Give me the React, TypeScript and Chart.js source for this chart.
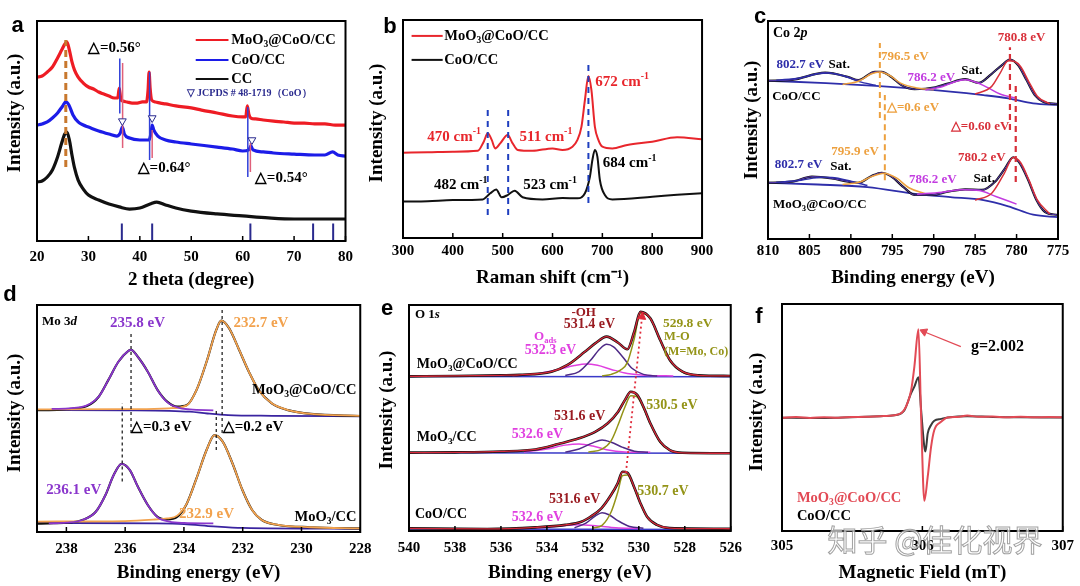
import { useEffect, useRef } from 'react';
import { Chart, registerables } from 'chart.js';

Chart.register(...registerables);

type Pt = [number, number];
type Align = 'left' | 'center' | 'right';

const SERIF = '"Liberation Serif", "Times New Roman", serif';
const SANS = '"Liberation Sans", Arial, sans-serif';
const CJK = '"Noto Sans CJK SC", sans-serif';

const zip = (xs: number[], ys: number[]): Pt[] => xs.map((x, i) => [x, ys[i]]);

// ---------------- (a) XRD patterns, 2θ (degree) ----------------
const xrdThetaMoCo = [20, 21, 22, 23, 24, 24.8, 25.4, 25.8, 26.3, 26.8, 27.3, 28, 29, 30, 31, 32, 33, 34, 35, 35.7, 36.0, 36.3, 36.7, 37.5, 38.5, 39.5, 40.5, 41.3, 41.6, 41.8, 42.0, 42.3, 43, 44, 45, 47, 50, 52, 55, 58, 60, 60.6, 60.9, 61.2, 61.6, 62.5, 64, 66, 68, 70, 72, 74, 76, 78, 80];
const xrdMoCo = [74.5, 75, 76.8, 79.1, 83.2, 86.8, 89.5, 90.5, 86.8, 81.4, 77.7, 74.5, 71.8, 70, 69.1, 67.7, 66.8, 65.9, 65, 65, 69.5, 64.5, 63.6, 63.2, 62.7, 62.7, 63.2, 63.2, 68.6, 76.8, 69.5, 64.1, 63.2, 62.7, 62.3, 61.4, 60.5, 59.5, 58.2, 56.8, 56.4, 56.4, 61.4, 57.7, 55.9, 55.5, 55, 54.5, 54.1, 53.6, 53.6, 53.2, 53.2, 52.7, 52.7];
const xrdThetaCoO = [20, 21, 22, 23, 24, 25, 25.6, 26.2, 27, 28, 29, 30, 32, 34, 35.5, 36.2, 36.6, 37, 38, 40, 41.8, 42.2, 42.4, 42.7, 43.5, 45, 47, 50, 55, 58, 60, 61.2, 61.6, 62, 64, 66, 70, 74, 76, 77.5, 78.5, 80];
const xrdCoO = [52.7, 53.2, 54.1, 55.9, 58.2, 61.4, 63.2, 61.8, 57.3, 54.1, 52.7, 51.8, 50, 48.6, 47.7, 49.1, 51.8, 48.6, 46.8, 45.9, 45.9, 49.5, 52.7, 50.5, 47.7, 45.9, 45, 44.1, 42.7, 41.8, 40.9, 41.4, 43.2, 41.4, 40.5, 40, 39.5, 39.1, 39.1, 40.5, 39.1, 38.6];
const xrdThetaCC = [20, 21, 22, 23, 24, 24.8, 25.4, 25.8, 26.3, 26.8, 27.3, 28, 29, 30, 32, 34, 36, 38, 40, 42, 43.3, 45, 47, 50, 55, 60, 65, 70, 75, 80];
const xrdCC = [26.8, 27.3, 29.1, 32.3, 38.2, 44.5, 48.6, 49.5, 45.9, 39.1, 33.2, 27.7, 23.6, 20.9, 18.6, 16.8, 15.5, 14.5, 15, 16.8, 17.7, 16.4, 15, 13.6, 12.3, 11.4, 10.5, 10, 10, 10];
const jcpdsTheta = [36.5, 42.4, 61.5, 73.7, 77.6];
const jcpdsStick = 8;
const carbonPeakLine = [25.6, 33.6, 91.4];
const coOPeakLines = [[36.1, 58, 83], [41.9, 36.8, 76.8], [61.0, 29.1, 60.9]];
const moCoPeakLines = [[36.65, 42.3, 80.9], [42.4, 37.7, 50.5], [61.5, 31.4, 44.5]];
const coOMarks: Pt[] = [[36.6, 54.5], [42.4, 55.9], [61.8, 45.9]];

// ---------------- (b) Raman spectra ----------------
const ramanShiftMoCo = [300, 350, 400, 450, 462, 470, 478, 485, 495, 510, 520, 530, 560, 600, 620, 640, 650, 658, 665, 672, 678, 685, 692, 700, 720, 750, 800, 850, 900];
const ramanMoCo = [39.1, 39.3, 39.6, 40, 44.2, 48, 45, 41.1, 43.4, 47.2, 43.4, 40.4, 40, 41.1, 40.4, 41.9, 45, 51, 63.3, 74.3, 67.9, 51, 45, 41.9, 41.1, 42.7, 44.2, 46.2, 45.3];
const ramanShiftCoO = [300, 350, 400, 460, 475, 487, 498, 510, 524, 540, 580, 620, 650, 665, 675, 680, 685, 690, 695, 705, 720, 800, 850, 900];
const ramanCoO = [16.7, 16.9, 17.4, 17.7, 20.5, 22.3, 18.7, 19.7, 21.7, 18.7, 17.7, 18.3, 18.2, 20.5, 28.1, 35.8, 40.4, 37.3, 26.6, 19.7, 17.7, 18.9, 19.8, 20.5];
const ramanPeakLines = [[470, 10.6, 60], [511, 10.6, 60], [672, 16, 79.4]];

// ---------------- (c) Co 2p XPS ----------------
const coTopBE = [810, 807.1, 803.1, 800.3, 799.1, 797.1, 796.3, 795.1, 793.9, 792.3, 789.8, 788.3, 786.2, 784.6, 783, 781.8, 780.8, 779.8, 778.8, 777.8, 776.8, 775];
const coTop = [72.6, 73, 76.3, 74.3, 72.9, 76.7, 76.7, 74.3, 70.6, 68.7, 69.6, 71.3, 73.3, 71.6, 75.8, 79.7, 82.3, 79.7, 72.9, 66, 63, 61.9];
const coBotBE = [810, 807.1, 804.7, 802.3, 800.3, 799.1, 797.5, 796.3, 795.1, 793.5, 792.3, 790.2, 788.3, 786.2, 784.2, 782.6, 781.4, 780.4, 779.6, 778.6, 777.6, 776.6, 775];
const coBot = [25.8, 26.3, 28.6, 27.8, 26.3, 25.8, 28.9, 30.4, 28.6, 23.3, 20.2, 20.2, 21.7, 22.8, 22.5, 26.3, 32.4, 37.5, 34.7, 27.1, 17.9, 12.5, 11];
const coTopBg: Pt[] = [[810, 72.6], [803, 71.5], [797, 70.2], [788, 67.6], [784, 66], [781, 64.5], [778, 62.2], [775, 61.5]];
const coBotBg: Pt[] = [[810, 25.8], [804, 25], [798, 23.8], [792, 20.6], [788, 19.2], [784, 17.8], [781, 15], [778, 11.2], [775, 10]];
const coTopSatA: Pt[] = [[809, 72.8], [806, 74], [804, 75.8], [802.7, 76.2], [801, 75], [799, 72.2], [797, 70.5]];
const coTopP12: Pt[] = [[801, 70.9], [799, 72.5], [797.5, 75.8], [796.5, 76.6], [795.3, 75], [794, 71.5], [792, 69.3], [790, 68.5]];
const coTopSatB: Pt[] = [[791, 68.3], [789, 69.8], [787.5, 72], [786.2, 73], [785, 72], [783.5, 69.5], [782, 66.5], [780, 64.5]];
const coTopP32: Pt[] = [[785, 66.5], [783, 70], [782, 76], [781, 81.8], [780.3, 81.5], [779.5, 79], [778.5, 72], [777.5, 65.5], [776, 62]];
const coBotSatA: Pt[] = [[809, 26], [806, 27], [803.5, 28.3], [802.3, 28.2], [800, 26.5], [798, 24.5]];
const coBotP12: Pt[] = [[801, 25], [799, 26], [797.5, 28.6], [796, 30.2], [794.5, 28], [793, 23.5], [791, 20.8]];
const coBotSatB: Pt[] = [[792, 20.5], [789, 21.5], [786.5, 22.6], [784.5, 22.2], [782.5, 19.5], [780, 16]];
const coBotP32: Pt[] = [[785, 17.8], [783, 21], [781.5, 30], [780.4, 37.4], [779.5, 35], [778.5, 27], [777.5, 18], [776, 11.5]];
const coP12Lines = [[796.5, 55.5, 89.9], [795.9, 27, 66]];
const coP32Lines = [[780.8, 50, 88], [780.1, 26.1, 71.6]];

// ---------------- (d) Mo 3d XPS ----------------
const moTop: Pt[] = [[239, 53.7], [238.6, 53.7], [238, 54.1], [237.3, 55.5], [236.9, 59.6], [236.57, 67], [236.23, 75], [235.9, 79.7], [235.8, 80.2], [235.57, 77.2], [235.23, 70.6], [234.9, 62.6], [234.57, 57.4], [234.23, 55.2], [233.9, 55.9], [233.57, 62.6], [233.23, 75], [232.9, 89], [232.73, 93.1], [232.46, 89.7], [232.12, 80.2], [231.79, 70.6], [231.46, 62.6], [231.01, 56.7], [230.46, 53.7], [229.68, 52], [228, 51.1]];
const moTopP52: Pt[] = [[238.5, 54.2], [237.5, 55], [236.9, 59.6], [236.57, 67], [236.23, 75], [235.9, 79.7], [235.8, 80.2], [235.57, 77.2], [235.23, 70.6], [234.9, 62.6], [234.57, 57.2], [234.2, 54.8], [233.8, 54], [233, 53.6]];
const moTopP32: Pt[] = [[239, 54], [236, 54.1], [234.5, 54.5], [233.9, 55.8], [233.57, 62.6], [233.23, 75], [232.9, 89], [232.73, 93.1], [232.46, 89.7], [232.12, 80.2], [231.79, 70.6], [231.46, 62.6], [231.01, 56.7], [230.46, 53.7], [229.68, 52], [228, 51.2]];
const moTopBg: Pt[] = [[239, 53.7], [236, 53.6], [234.5, 53.4], [233.8, 53], [233.2, 52.2], [232.5, 51.5], [231, 51.2], [228, 51]];
const moBot: Pt[] = [[239, 3.7], [238.6, 3.8], [238, 4.1], [237.45, 5.3], [237, 8.9], [236.67, 16.3], [236.39, 25.1], [236.12, 30], [235.84, 27.3], [235.57, 20], [235.23, 11.9], [234.9, 6.7], [234.57, 5.6], [234.23, 6.7], [233.9, 12.6], [233.57, 23.7], [233.23, 36.1], [232.96, 42.7], [232.68, 39.8], [232.35, 30.3], [232.01, 18.5], [231.68, 9.7], [231.35, 5.3], [230.79, 3.1], [229.68, 2.1], [228, 1.6]];
const moBotP52: Pt[] = [[238.6, 3.8], [238, 4.1], [237.45, 5.3], [237, 8.9], [236.67, 16.3], [236.39, 25.1], [236.12, 30], [235.84, 27.3], [235.57, 20], [235.23, 11.9], [234.9, 6.5], [234.5, 4.6], [234, 4], [233, 3.8]];
const moBotP32: Pt[] = [[239, 4.6], [236, 4.8], [235, 5.5], [234.57, 6], [234.23, 7.2], [233.9, 12.6], [233.57, 23.7], [233.23, 36.1], [232.96, 42.7], [232.68, 39.8], [232.35, 30.3], [232.01, 18.5], [231.68, 9.7], [231.35, 5.3], [230.79, 3.1], [229.68, 2.1], [228, 1.6]];
const moBotBg: Pt[] = [[239, 4], [235, 3.8], [234, 3.5], [233, 2.5], [232, 1.8], [228, 1.4]];
const moPeakLines = [[235.8, 43.6, 87.7], [232.7, 43.6, 97.8], [236.1, 22.2, 56.7], [232.9, 36.1, 54.5]];

// ---------------- (e) O 1s XPS ----------------
const oTop: Pt[] = [[540, 68.4], [538, 68.6], [536, 68.9], [535.2, 69.1], [533.8, 70.5], [533.1, 73.5], [532.35, 79.3], [531.9, 83], [531.4, 86], [530.9, 83.3], [530.5, 80.4], [530.2, 88.2], [529.93, 97], [529.5, 94.1], [529.07, 84.5], [528.65, 75.7], [528.1, 70.5], [527.4, 68.9], [526, 68.6]];
const oTopMO: Pt[] = [[531.6, 68.6], [531.2, 69.3], [530.8, 71.2], [530.5, 74.5], [530.2, 85], [529.93, 96.5], [529.5, 94], [529.07, 84.3], [528.65, 75.5], [528.1, 70.3], [527.4, 68.8], [526.5, 68.6]];
const oTopOH: Pt[] = [[533.2, 68.8], [532.6, 70.5], [532.1, 75.5], [531.7, 80.5], [531.4, 82.6], [531.1, 81.5], [530.7, 77], [530.3, 72], [529.8, 69.3], [529.2, 68.6]];
const oTopAds: Pt[] = [[535.5, 68.7], [534.5, 69.5], [533.5, 71.5], [532.8, 73.2], [532.3, 73.9], [531.8, 73.3], [531.2, 71.5], [530.5, 69.7], [529.5, 68.8], [528.5, 68.6]];
const oMid: Pt[] = [[540, 34.7], [538, 34.8], [536, 35.2], [534.5, 36.1], [533.5, 38.5], [532.6, 41], [531.9, 43.9], [531.35, 47.7], [530.9, 52.8], [530.6, 58], [530.35, 61.6], [530.07, 60.2], [529.8, 55], [529.5, 47.7], [529.07, 39.5], [528.65, 35.8], [528.1, 34.6], [526, 34.4]];
const oMidMO: Pt[] = [[532.2, 34.9], [531.6, 36.2], [531.2, 40], [530.9, 47], [530.6, 55], [530.35, 59.8], [530.1, 59.5], [529.8, 54.5], [529.5, 47.5], [529.07, 39.3], [528.65, 35.7], [528.1, 34.6], [527, 34.4]];
const oMidOH: Pt[] = [[533.2, 34.9], [532.6, 36.3], [532, 39], [531.6, 40.3], [531.2, 39.3], [530.7, 37], [530.2, 35.3], [529.6, 34.8]];
const oMidAds: Pt[] = [[535, 35], [534, 36.3], [533.2, 38], [532.6, 38.5], [532, 37.6], [531.4, 36], [530.6, 35], [529.5, 34.8]];
const oBot: Pt[] = [[540, 1.2], [536.6, 0.9], [534.5, 1.6], [533.2, 2.7], [532.5, 4.1], [532.06, 6.6], [531.63, 10], [531.21, 15.9], [530.92, 21.1], [530.71, 26.2], [530.5, 25.8], [530.21, 19.6], [529.93, 12.3], [529.64, 6.3], [529.21, 2.7], [528.65, 1.3], [526, 1]];
const oBotMO: Pt[] = [[532, 1.3], [531.6, 2.5], [531.2, 8.5], [530.92, 17], [530.71, 24.5], [530.5, 24.8], [530.21, 19.3], [529.93, 12.2], [529.64, 6.2], [529.21, 2.6], [528.65, 1.2], [527.5, 1]];
const oBotOH: Pt[] = [[532.8, 1.4], [532.3, 3.5], [531.9, 6.6], [531.6, 8.1], [531.3, 7.2], [530.9, 4.5], [530.4, 2], [529.8, 1.2]];
const oBotAds: Pt[] = [[534.5, 1.3], [533.5, 2.1], [532.6, 2.8], [531.8, 2.2], [531, 1.4], [530, 1.1]];
const oBaselines = [68.4, 34.6, 0.9];
const oShiftTrend: Pt[] = [[529.86, 94.8], [530.57, 24.8]];

// ---------------- (f) EPR ----------------
const eprMoCo: Pt[] = [[305, 49.9], [305.1, 50.2], [305.2, 49.8], [305.3, 50.1], [305.4, 49.9], [305.5, 50.2], [305.6, 50.3], [305.7, 50.6], [305.8, 51], [305.87, 53.3], [305.92, 62], [305.943, 72.4], [305.972, 88.9], [305.991, 50.4], [306.014, 13.3], [306.038, 23.9], [306.062, 37.1], [306.085, 44.5], [306.133, 48.1], [306.18, 50], [306.25, 50.2], [306.32, 50.9], [306.4, 50.3], [306.5, 50.4], [306.6, 50.1], [306.7, 50.3], [306.8, 50.1], [306.9, 50.2], [307, 50.1]];
const eprCoO: Pt[] = [[305, 49.9], [305.2, 49.8], [305.4, 49.9], [305.6, 50.3], [305.7, 50.6], [305.8, 51], [305.87, 53], [305.92, 60.8], [305.943, 63.6], [305.972, 67.7], [305.991, 53.3], [306.014, 37.1], [306.022, 35], [306.038, 43], [306.062, 46.7], [306.085, 48.6], [306.133, 49.4], [306.18, 50], [306.32, 50.6], [306.5, 50.2], [306.7, 50.1], [307, 50]];
const gArrow: Pt[] = [[306.274, 81.2], [306.012, 87.8]];

// ---------------- colours ----------------
const BLACK = '#111111';
const RED_A = '#ee1c24';
const BLUE_A = '#1c1ce8';
const NAVY = '#2a2a8e';
const RED_B = '#e8262c';
const NAVY_C = '#2e2eaa';
const ORANGE_C = '#eda03e';
const MAG_C = '#c23ce0';
const RED_C = '#d8303a';
const PURPLE_D = '#8a36cc';
const ORANGE_D = '#f2a24e';
const DKRED_E = '#9a1c22';
const MAG_E = '#e040e0';
const OLIVE_E = '#949418';
const RED_F = '#e24a55';

interface Series { pts: Pt[]; color: string; width?: number; dash?: number[]; smooth?: boolean; showLine?: boolean; pointStyle?: string; rotation?: number; radius?: number; fill?: string; }
interface Label { x: number; y: number; t: string; c?: string; s?: number; a?: Align; }
interface LegendSpec { x0: number; x1: number; tx: number; s: number; rows: { y: number; c: string; t: string }[]; }
interface PanelSpec {
  letter: string; letterAt: Pt;
  box: { left: number; top: number; w: number; h: number };
  yw: number; padTop: number; padRight: number; xh: number;
  x: { min: number; max: number; step: number; reverse?: boolean; title: string; tickPad: number; titlePad: number };
  yTitleAt: Pt;
  series: Series[]; labels: Label[]; legend?: LegendSpec; watermark?: { x: number; y: number; t: string };
}

const vline = (x: number, y0: number, y1: number, color: string, width: number, dash?: number[]): Series =>
  ({ pts: [[x, y0], [x, y1]], color, width, dash, smooth: false });

const panels: PanelSpec[] = [
  {
    letter: 'a', letterAt: [17.5, 32],
    box: { left: 0, top: 0, w: 360, h: 295 }, yw: 37, padTop: 21, padRight: 12, xh: 54,
    x: { min: 20, max: 80, step: 10, title: '2 theta (degree)', tickPad: 7, titlePad: 3.6 },
    yTitleAt: [15, 113],
    series: [
      { pts: zip(xrdThetaCC, xrdCC), color: BLACK, width: 3.2 },
      { pts: zip(xrdThetaCoO, xrdCoO), color: BLUE_A, width: 3.2 },
      { pts: zip(xrdThetaMoCo, xrdMoCo), color: RED_A, width: 3.2 },
      ...jcpdsTheta.map((t) => vline(t, 0, jcpdsStick, NAVY, 2)),
      ...coOPeakLines.map(([t, a, b]) => vline(t, a, b, '#3040d8', 1.5)),
      ...moCoPeakLines.map(([t, a, b]) => vline(t, a, b, '#e0607a', 1.5)),
      vline(carbonPeakLine[0], carbonPeakLine[1], carbonPeakLine[2], '#c8782e', 3, [7, 4]),
      { pts: coOMarks, color: NAVY, showLine: false, pointStyle: 'triangle', rotation: 180, radius: 4.5, fill: '#ffffff' },
    ],
    labels: [
      { x: 35.05, y: 87.7, t: '△=0.56°', s: 15 },
      { x: 44.7, y: 33.2, t: '△=0.64°', s: 15 },
      { x: 67.5, y: 28.6, t: '△=0.54°', s: 15 },
      { x: 49.1, y: 67.3, t: '▽ JCPDS # 48-1719（CoO）', s: 10, c: NAVY, a: 'left' },
    ],
    legend: {
      x0: 50.87, x1: 57.24, tx: 57.8, s: 14.5,
      rows: [
        { y: 91.4, c: RED_A, t: 'MoO_{3}@CoO/CC' },
        { y: 82.3, c: BLUE_A, t: 'CoO/CC' },
        { y: 73.6, c: BLACK, t: 'CC' },
      ],
    },
  },
  {
    letter: 'b', letterAt: [28, 33],
    box: { left: 362, top: 0, w: 355, h: 295 }, yw: 41, padTop: 20, padRight: 10, xh: 57,
    x: { min: 300, max: 900, step: 100, title: 'Raman shift (cm⁻¹)', tickPad: 3.7, titlePad: 5.3 },
    yTitleAt: [15, 123],
    series: [
      { pts: zip(ramanShiftCoO, ramanCoO), color: BLACK, width: 2 },
      { pts: zip(ramanShiftMoCo, ramanMoCo), color: RED_B, width: 2 },
      ...ramanPeakLines.map(([s, a, b]) => vline(s, a, b, '#1f3fbf', 2, [6, 5])),
    ],
    labels: [
      { x: 402.6, y: 46.5, t: '470 cm^{-1}', c: RED_B, s: 15 },
      { x: 586.8, y: 46.5, t: '511 cm^{-1}', c: RED_B, s: 15 },
      { x: 739.7, y: 71.7, t: '672 cm^{-1}', c: RED_B, s: 15 },
      { x: 415.8, y: 24.3, t: '482 cm^{-1}', s: 15 },
      { x: 595, y: 24.3, t: '523 cm^{-1}', s: 15 },
      { x: 754.6, y: 34.3, t: '684 cm^{-1}', s: 15 },
    ],
    legend: {
      x0: 317.2, x1: 379.6, tx: 382.9, s: 14.5,
      rows: [
        { y: 92.7, c: RED_B, t: 'MoO_{3}@CoO/CC' },
        { y: 81.7, c: BLACK, t: 'CoO/CC' },
      ],
    },
  },
  {
    letter: 'c', letterAt: [32, 23],
    box: { left: 728, top: 0, w: 352, h: 295 }, yw: 40, padTop: 21, padRight: 22, xh: 56,
    x: { min: 775, max: 810, step: 5, reverse: true, title: 'Binding energy (eV)', tickPad: 2.7, titlePad: 5.3 },
    yTitleAt: [24, 120],
    series: [
      { pts: coTopBg, color: NAVY_C, width: 1.8 },
      { pts: zip(coTopBE, coTop), color: BLACK, width: 2.2 },
      { pts: zip(coTopBE, coTop), color: '#5a3ab8', width: 1 },
      { pts: coTopSatA, color: NAVY_C, width: 1.5 },
      { pts: coTopP12, color: ORANGE_C, width: 1.5 },
      { pts: coTopSatB, color: MAG_C, width: 1.5 },
      { pts: coTopP32, color: RED_C, width: 1.5 },
      { pts: coBotBg, color: NAVY_C, width: 1.8 },
      { pts: zip(coBotBE, coBot), color: BLACK, width: 2.2 },
      { pts: zip(coBotBE, coBot), color: '#5a3ab8', width: 1 },
      { pts: coBotSatA, color: NAVY_C, width: 1.5 },
      { pts: coBotP12, color: ORANGE_C, width: 1.5 },
      { pts: coBotSatB, color: MAG_C, width: 1.5 },
      { pts: coBotP32, color: RED_C, width: 1.5 },
      ...coP12Lines.map(([e, a, b]) => vline(e, a, b, ORANGE_C, 2, [6, 4])),
      ...coP32Lines.map(([e, a, b]) => vline(e, a, b, RED_C, 2.2, [6, 4])),
    ],
    labels: [
      { x: 809.4, y: 94.5, t: 'Co 2*p*', s: 14, a: 'left' },
      { x: 806.1, y: 79.8, t: '802.7 eV', c: NAVY_C },
      { x: 801.4, y: 79.8, t: 'Sat.' },
      { x: 793.5, y: 83.5, t: '796.5 eV', c: ORANGE_C },
      { x: 790.3, y: 73.9, t: '786.2 eV', c: MAG_C },
      { x: 785.4, y: 77.1, t: 'Sat.' },
      { x: 779.4, y: 92.2, t: '780.8 eV', c: RED_C },
      { x: 809.5, y: 65.1, t: 'CoO/CC', a: 'left' },
      { x: 792.5, y: 60.1, t: '△=0.6 eV', c: ORANGE_C },
      { x: 784.4, y: 51.4, t: '△=0.60 eV', c: RED_C },
      { x: 799.5, y: 39.9, t: '795.9 eV', c: ORANGE_C },
      { x: 784.2, y: 37.2, t: '780.2 eV', c: RED_C },
      { x: 806.3, y: 33.9, t: '802.7 eV', c: NAVY_C },
      { x: 801.2, y: 33, t: 'Sat.' },
      { x: 790.1, y: 27.1, t: '786.2 eV', c: MAG_C },
      { x: 783.9, y: 27.5, t: 'Sat.' },
      { x: 809.4, y: 15.6, t: 'MoO_{3}@CoO/CC', a: 'left' },
    ],
  },
  {
    letter: 'd', letterAt: [10, 21],
    box: { left: 0, top: 280, w: 380, h: 306 }, yw: 37, padTop: 25, padRight: 14, xh: 54,
    x: { min: 228, max: 239, step: 2, reverse: true, title: 'Binding energy (eV)', tickPad: 8.5, titlePad: 1.2 },
    yTitleAt: [15, 133],
    series: [
      { pts: moTopBg, color: '#3a24a0', width: 1.8 },
      { pts: moTop, color: BLACK, width: 2.2 },
      { pts: moTopP32, color: ORANGE_D, width: 1.8 },
      { pts: moTopP52, color: PURPLE_D, width: 1.8 },
      { pts: moBotBg, color: '#3a24a0', width: 1.8 },
      { pts: moBot, color: BLACK, width: 2.2 },
      { pts: moBotP32, color: ORANGE_D, width: 1.8 },
      { pts: moBotP52, color: PURPLE_D, width: 1.8 },
      ...moPeakLines.map(([e, a, b]) => vline(e, a, b, BLACK, 1.2, [3, 3])),
    ],
    labels: [
      { x: 238.83, y: 92.5, t: 'Mo 3*d*', s: 13, a: 'left' },
      { x: 235.58, y: 92.2, t: '235.8 eV', c: PURPLE_D, s: 15 },
      { x: 231.38, y: 91.9, t: '232.7 eV', c: ORANGE_D, s: 15 },
      { x: 228.13, y: 62.6, t: 'MoO_{3}@CoO/CC', a: 'right', s: 14.5 },
      { x: 234.77, y: 46.3, t: '△=0.3 eV', s: 15 },
      { x: 231.65, y: 46.3, t: '△=0.2 eV', s: 15 },
      { x: 237.75, y: 18.5, t: '236.1 eV', c: PURPLE_D, s: 15 },
      { x: 233.23, y: 7.9, t: '232.9 eV', c: ORANGE_D, s: 15 },
      { x: 228.13, y: 6.6, t: 'MoO_{3}/CC', a: 'right', s: 14.5 },
    ],
  },
  {
    letter: 'e', letterAt: [21, 35],
    box: { left: 366, top: 280, w: 384, h: 306 }, yw: 43, padTop: 25, padRight: 13, xh: 55,
    x: { min: 526, max: 540, step: 2, reverse: true, title: 'Binding energy (eV)', tickPad: 8, titlePad: 1.6 },
    yTitleAt: [21, 130],
    series: [
      ...oBaselines.map((b): Series => ({ pts: [[540, b], [526, b - 0.2]], color: '#3a3ac8', width: 1.5, smooth: false })),
      { pts: oTopAds, color: MAG_E, width: 1.5 },
      { pts: oTopOH, color: '#4e2a86', width: 1.5 },
      { pts: oTopMO, color: OLIVE_E, width: 1.5 },
      { pts: oTop, color: BLACK, width: 2.6 },
      { pts: oTop, color: '#d8283a', width: 1.3 },
      { pts: oMidAds, color: MAG_E, width: 1.5 },
      { pts: oMidOH, color: '#4e2a86', width: 1.5 },
      { pts: oMidMO, color: OLIVE_E, width: 1.5 },
      { pts: oMid, color: BLACK, width: 2.6 },
      { pts: oMid, color: '#d8283a', width: 1.3 },
      { pts: oBotAds, color: MAG_E, width: 1.5 },
      { pts: oBotOH, color: '#4e2a86', width: 1.5 },
      { pts: oBotMO, color: OLIVE_E, width: 1.5 },
      { pts: oBot, color: BLACK, width: 2.6 },
      { pts: oBot, color: '#d8283a', width: 1.3 },
      { pts: oShiftTrend, color: '#e02a3a', width: 1.8, dash: [2, 3], smooth: false },
      { pts: [oShiftTrend[0]], color: '#e02a3a', showLine: false, pointStyle: 'triangle', rotation: 6, radius: 4.5 },
    ],
    labels: [
      { x: 539.74, y: 95.6, t: 'O 1*s*', s: 13, a: 'left' },
      { x: 532.4, y: 96.6, t: '-OH', c: DKRED_E, s: 13 },
      { x: 532.15, y: 91.2, t: '531.4 eV', c: DKRED_E, s: 14 },
      { x: 534.07, y: 85.8, t: 'O_{ads}', c: MAG_E, s: 13 },
      { x: 533.85, y: 79.8, t: '532.3 eV', c: MAG_E, s: 14 },
      { x: 528.95, y: 92, t: '529.8 eV', c: OLIVE_E, a: 'left', s: 13.5 },
      { x: 528.9, y: 85.8, t: 'M-O', c: OLIVE_E, a: 'left', s: 12.5 },
      { x: 528.9, y: 79.3, t: '(M=Mo, Co)', c: OLIVE_E, a: 'left', s: 12 },
      { x: 539.66, y: 73.5, t: 'MoO_{3}@CoO/CC', a: 'left', s: 14 },
      { x: 532.57, y: 50.9, t: '531.6 eV', c: DKRED_E, s: 14 },
      { x: 528.56, y: 55.8, t: '530.5 eV', c: OLIVE_E, s: 14 },
      { x: 534.41, y: 42.9, t: '532.6 eV', c: MAG_E, s: 14 },
      { x: 539.66, y: 41.2, t: 'MoO_{3}/CC', a: 'left', s: 14 },
      { x: 532.79, y: 14.2, t: '531.6 eV', c: DKRED_E, s: 14 },
      { x: 528.95, y: 17.7, t: '530.7 eV', c: OLIVE_E, s: 14 },
      { x: 534.41, y: 6.2, t: '532.6 eV', c: MAG_E, s: 14 },
      { x: 539.74, y: 7.5, t: 'CoO/CC', a: 'left', s: 14 },
    ],
  },
  {
    letter: 'f', letterAt: [19, 43],
    box: { left: 740, top: 280, w: 340, h: 306 }, yw: 42, padTop: 24, padRight: 16, xh: 55,
    x: { min: 305, max: 307, step: 1, title: 'Magnetic Field (mT)', tickPad: 6, titlePad: 1.6 },
    yTitleAt: [17, 132],
    series: [
      { pts: eprCoO, color: '#3a3a3a', width: 2 },
      { pts: eprMoCo, color: RED_F, width: 2 },
      { pts: gArrow, color: RED_F, width: 1.2, smooth: false },
      { pts: [gArrow[1]], color: RED_F, showLine: false, pointStyle: 'triangle', rotation: -67, radius: 4.5 },
    ],
    labels: [
      { x: 306.535, y: 81.1, t: 'g=2.002', s: 16 },
      { x: 305.106, y: 14.5, t: 'MoO_{3}@CoO/CC', c: RED_F, a: 'left', s: 14.5 },
      { x: 305.106, y: 6.6, t: 'CoO/CC', a: 'left', s: 14.5 },
    ],
    watermark: { x: 195, y: 260, t: '知乎 @佳化视界' },
  },
];

// ---------- rich text: _{sub}, ^{sup}, *italic* ----------
interface Seg { t: string; k: 'n' | 'sub' | 'sup' | 'it'; }
function parseRich(s: string): Seg[] {
  const out: Seg[] = [];
  let buf = '';
  let i = 0;
  const flush = () => { if (buf) { out.push({ t: buf, k: 'n' }); buf = ''; } };
  while (i < s.length) {
    const ch = s[i];
    if ((ch === '_' || ch === '^') && s[i + 1] === '{') {
      flush();
      const end = s.indexOf('}', i);
      out.push({ t: s.slice(i + 2, end), k: ch === '_' ? 'sub' : 'sup' });
      i = end + 1;
    } else if (ch === '*') {
      flush();
      const end = s.indexOf('*', i + 1);
      out.push({ t: s.slice(i + 1, end), k: 'it' });
      i = end + 1;
    } else {
      buf += ch;
      i += 1;
    }
  }
  flush();
  return out;
}

function drawRich(ctx: CanvasRenderingContext2D, text: string, x: number, y: number, size: number, color: string, align: Align) {
  const segs = parseRich(text);
  const fontOf = (k: string) => {
    const s = k === 'sub' || k === 'sup' ? size * 0.66 : size;
    return `${k === 'it' ? 'italic ' : ''}bold ${s}px ${SERIF}`;
  };
  let total = 0;
  const widths = segs.map((sg) => {
    ctx.font = fontOf(sg.k);
    const w = ctx.measureText(sg.t).width;
    total += w;
    return w;
  });
  let cx = align === 'left' ? x : align === 'right' ? x - total : x - total / 2;
  ctx.fillStyle = color;
  ctx.textAlign = 'left';
  ctx.textBaseline = 'middle';
  segs.forEach((sg, i) => {
    ctx.font = fontOf(sg.k);
    const dy = sg.k === 'sub' ? size * 0.3 : sg.k === 'sup' ? -size * 0.33 : 0;
    ctx.fillText(sg.t, cx, y + dy);
    cx += widths[i];
  });
}

function decoPlugin(p: PanelSpec) {
  return {
    id: 'deco',
    afterDraw(chart: any) {
      const { ctx, chartArea: area, scales } = chart;
      const xs = scales.x;
      const ys = scales.y;
      const px = (v: number) => xs.getPixelForValue(v);
      const py = (v: number) => ys.getPixelForValue(v);
      ctx.save();

      // inward tick marks on the bottom axis
      ctx.strokeStyle = '#000';
      ctx.lineWidth = 1.5;
      xs.ticks.forEach((t: any) => {
        const x = px(t.value);
        ctx.beginPath();
        ctx.moveTo(x, area.bottom);
        ctx.lineTo(x, area.bottom - 5);
        ctx.stroke();
      });

      // frame
      ctx.lineWidth = 2;
      ctx.strokeRect(area.left, area.top, area.right - area.left, area.bottom - area.top);

      // y-axis title
      ctx.save();
      ctx.translate(p.yTitleAt[0], p.yTitleAt[1]);
      ctx.rotate(-Math.PI / 2);
      ctx.font = `bold 19px ${SERIF}`;
      ctx.fillStyle = '#000';
      ctx.textAlign = 'center';
      ctx.textBaseline = 'middle';
      ctx.fillText('Intensity (a.u.)', 0, 0);
      ctx.restore();

      // panel letter
      ctx.font = `bold 22px ${SANS}`;
      ctx.fillStyle = '#000';
      ctx.textAlign = 'center';
      ctx.textBaseline = 'alphabetic';
      ctx.fillText(p.letter, p.letterAt[0], p.letterAt[1]);

      // legend
      if (p.legend) {
        const lg = p.legend;
        lg.rows.forEach((r) => {
          ctx.strokeStyle = r.c;
          ctx.lineWidth = 2;
          ctx.beginPath();
          ctx.moveTo(px(lg.x0), py(r.y));
          ctx.lineTo(px(lg.x1), py(r.y));
          ctx.stroke();
          drawRich(ctx, r.t, px(lg.tx), py(r.y), lg.s, '#000', 'left');
        });
      }

      // annotations
      p.labels.forEach((l) => drawRich(ctx, l.t, px(l.x), py(l.y), l.s ?? 13, l.c ?? '#000', l.a ?? 'center'));

      // watermark
      if (p.watermark) {
        const wm = p.watermark;
        ctx.font = `30px ${CJK}`;
        ctx.textAlign = 'center';
        ctx.textBaseline = 'middle';
        ctx.fillStyle = 'rgba(255,255,255,0.7)';
        ctx.fillText(wm.t, wm.x, wm.y);
        ctx.strokeStyle = 'rgba(130,130,130,0.75)';
        ctx.lineWidth = 1;
        ctx.strokeText(wm.t, wm.x, wm.y);
      }
      ctx.restore();
    },
  };
}

function buildConfig(p: PanelSpec): any {
  const datasets = p.series.slice().reverse().map((s) => ({
    data: s.pts.map(([x, y]) => ({ x, y })),
    borderColor: s.color,
    backgroundColor: s.fill ?? s.color,
    borderWidth: s.width ?? 1.5,
    borderDash: s.dash ?? [],
    borderJoinStyle: 'round',
    showLine: s.showLine ?? true,
    pointRadius: s.radius ?? 0,
    pointHoverRadius: 0,
    pointStyle: s.pointStyle ?? 'circle',
    pointRotation: s.rotation ?? 0,
    pointBackgroundColor: s.fill ?? s.color,
    pointBorderColor: s.color,
    pointBorderWidth: 1,
    cubicInterpolationMode: s.smooth === false ? 'default' : 'monotone',
    tension: 0,
    fill: false,
  }));
  return {
    type: 'line',
    data: { datasets },
    options: {
      responsive: false,
      maintainAspectRatio: false,
      animation: false,
      events: [],
      layout: { padding: { left: p.yw, top: p.padTop, right: p.padRight, bottom: 0 } },
      plugins: { legend: { display: false }, tooltip: { enabled: false } },
      scales: {
        x: {
          type: 'linear',
          min: p.x.min,
          max: p.x.max,
          reverse: !!p.x.reverse,
          grid: { display: false, drawTicks: false, tickLength: 0 },
          border: { display: false },
          ticks: {
            stepSize: p.x.step,
            autoSkip: false,
            maxRotation: 0,
            includeBounds: false,
            padding: p.x.tickPad,
            color: '#000',
            font: { family: SERIF, weight: 'bold', size: 15 },
          },
          title: {
            display: true,
            text: p.x.title,
            color: '#000',
            font: { family: SERIF, weight: 'bold', size: 19 },
            padding: { top: 0, bottom: p.x.titlePad },
          },
          afterFit: (scale: any) => { scale.height = p.xh; },
        },
        y: { type: 'linear', min: 0, max: 100, display: false },
      },
    },
    plugins: [decoPlugin(p)],
  };
}

function Panel({ spec }: { spec: PanelSpec }) {
  const ref = useRef<HTMLCanvasElement>(null);
  useEffect(() => {
    if (!ref.current) return undefined;
    const chart = new Chart(ref.current, buildConfig(spec));
    return () => chart.destroy();
  }, [spec]);
  const { left, top, w, h } = spec.box;
  return (
    <div style={{ position: 'absolute', left, top, width: w, height: h }}>
      <canvas ref={ref} width={w} height={h} style={{ width: w, height: h, display: 'block' }} />
    </div>
  );
}

export default function App() {
  return (
    <div style={{ position: 'fixed', left: 0, top: 0, width: 1080, height: 586, background: '#ffffff', overflow: 'hidden' }}>
      {panels.map((p) => <Panel key={p.letter} spec={p} />)}
    </div>
  );
}
